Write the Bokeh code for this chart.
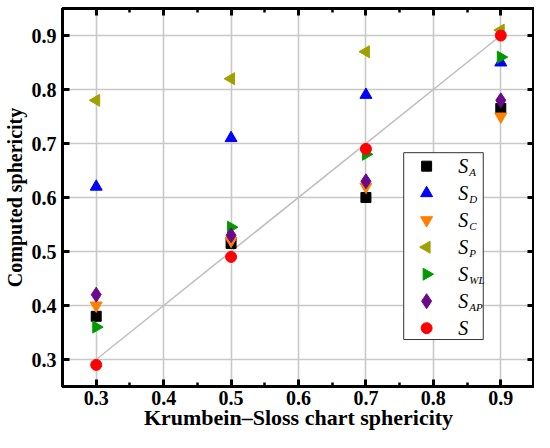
import math
from bokeh.plotting import figure
from bokeh.models import LinearAxis, FixedTicker, Range1d, CustomJSTickFormatter
from bokeh.core.properties import value
from bokeh.embed import file_html
from bokeh.resources import INLINE

# chart sphericity (x) and computed sphericity per method
x_chart = [0.3, 0.5, 0.7, 0.9]
s_a = [0.38, 0.515, 0.60, 0.765]
s_d = [0.62, 0.71, 0.79, 0.85]
s_c = [0.40, 0.52, 0.62, 0.75]
s_p = [0.78, 0.82, 0.87, 0.91]
s_wl = [0.36, 0.545, 0.68, 0.86]
s_ap = [0.42, 0.53, 0.63, 0.78]
s_all = [0.29, 0.49, 0.69, 0.90]
ref_line = [0.3, 0.9]
ticks = [0.3, 0.4, 0.5, 0.6, 0.7, 0.8, 0.9]
minor_x = [0.35, 0.45, 0.55, 0.65, 0.75, 0.85]
sub_labels = ["A", "D", "C", "P", "WL", "AP", ""]

serif = "Liberation Serif"

p = figure(width=534, height=432, output_backend="svg", toolbar_location=None,
           x_range=Range1d(0.25, 0.95), y_range=Range1d(0.25, 0.95),
           min_border_left=50, min_border_right=0, min_border_top=8, min_border_bottom=40,
           x_axis_label="Krumbein\u2013Sloss chart sphericity", y_axis_label="Computed sphericity")
p.outline_line_color = "black"
p.outline_line_width = 3
p.outline_line_alpha = 1
p.background_fill_color = "white"

for ax in p.xaxis + p.yaxis:
    ax.axis_line_width = 3
    ax.axis_line_color = "black"
    ax.major_tick_in = 7
    ax.major_tick_out = 0
    ax.minor_tick_in = 4
    ax.minor_tick_out = 0
    ax.major_tick_line_width = 3
    ax.minor_tick_line_width = 2.5
    ax.major_label_text_font = serif
    ax.major_label_text_font_style = "bold"
    ax.major_label_text_font_size = "20px"
    ax.major_label_text_color = "black"
    ax.axis_label_text_font = serif
    ax.axis_label_text_font_style = "bold"
    ax.axis_label_text_color = "black"
p.xaxis.axis_label_text_font_size = "22px"
p.yaxis.axis_label_text_font_size = "20px"
p.xaxis.ticker = FixedTicker(ticks=ticks, minor_ticks=minor_x)
p.yaxis.ticker = FixedTicker(ticks=ticks, minor_ticks=[])
p.xaxis.major_label_standoff = 4
p.xaxis.axis_label_standoff = -3
p.yaxis.major_label_standoff = 6
p.yaxis.axis_label_standoff = 3

blank = CustomJSTickFormatter(code="return ''")
top = LinearAxis(ticker=FixedTicker(ticks=ticks, minor_ticks=minor_x), formatter=blank,
                 major_tick_in=7, major_tick_out=0, minor_tick_in=4, minor_tick_out=0,
                 major_tick_line_width=3, minor_tick_line_width=2.5, axis_line_width=3,
                 major_label_standoff=0, axis_label_standoff=0, major_label_text_font_size="0px")
right = LinearAxis(ticker=FixedTicker(ticks=ticks, minor_ticks=[]), formatter=blank,
                   major_tick_in=7, major_tick_out=0, minor_tick_in=0, minor_tick_out=0,
                   major_tick_line_width=3, axis_line_width=3,
                   major_label_standoff=0, axis_label_standoff=0, major_label_text_font_size="0px")
p.add_layout(top, "above")
p.add_layout(right, "right")

p.xgrid.ticker = FixedTicker(ticks=ticks)
p.ygrid.ticker = FixedTicker(ticks=ticks)
p.grid.grid_line_color = "#c8c8c8"
p.grid.grid_line_width = 1.6

p.line(ref_line, ref_line, line_color="#c0c0c0", line_width=1.6)

series = [
    (s_a, "square", "#000000", 0, 10),
    (s_d, "triangle", "#0000ff", 0, 12),
    (s_c, "inverted_triangle", "#ff8000", 0, 12),
    (s_p, "triangle", "#a0a000", math.pi / 2, 12),
    (s_wl, "triangle", "#009a00", -math.pi / 2, 12),
    (s_ap, "diamond", "#6a0a8a", 0, 15),
    (s_all, "circle", "#ff0000", 0, 11),
]
for ys, mk, col, ang, sz in series:
    p.scatter(x_chart, ys, marker=mk, size=sz, angle=ang, fill_color=col, line_color=col)

# legend drawn by hand so the labels can carry subscripts
lg_left, lg_right, lg_top, lg_bottom = 0.756, 0.874, 0.683, 0.337
p.quad(left=[lg_left], right=[lg_right], top=[lg_top], bottom=[lg_bottom],
       fill_color="white", line_color="#333333", line_width=1)
item_y = [lg_top - 0.025 - 0.05 * i for i in range(len(series))]
mark_x = 0.79
text_x = 0.837
for (ys, mk, col, ang, sz), yy, sub in zip(series, item_y, sub_labels):
    p.scatter([mark_x], [yy], marker=mk, size=sz, angle=ang, fill_color=col, line_color=col)
    p.text([text_x], [yy], text=["S"], text_font=value(serif), text_font_style="italic",
           text_font_size="20px", text_baseline="middle", text_align="left", text_color="black")
    if sub:
        p.text([text_x], [yy], text=[sub], text_font=value(serif), text_font_style="italic",
               text_font_size="11px", text_baseline="middle", text_align="left",
               text_color="black", x_offset=11, y_offset=6)

open("out.html", "w").write(file_html(p, INLINE))
